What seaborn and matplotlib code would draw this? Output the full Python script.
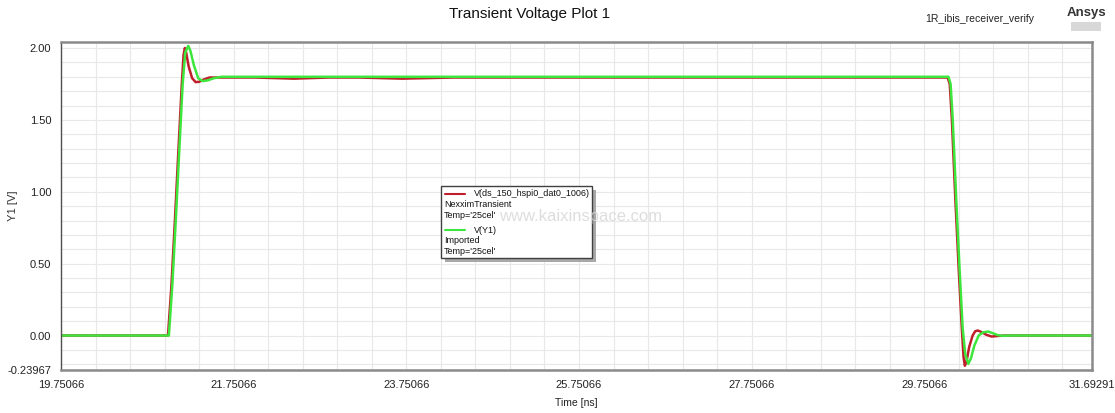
import numpy as np
import pandas as pd
import matplotlib
matplotlib.use("Agg")
import matplotlib.pyplot as plt
from matplotlib.ticker import FixedLocator
from matplotlib.patches import Rectangle
from matplotlib.lines import Line2D
import seaborn as sns

# ---------------- data ----------------
red_name = "V(ds_150_hspi0_dat0_1006)"
green_name = "V(Y1)"

red_t = [19.75066, 20.99, 21.03, 21.07, 21.11, 21.15, 21.17, 21.185, 21.20, 21.23, 21.27,
         21.31, 21.35, 21.40, 21.47, 21.55, 21.70, 22.00, 22.45, 22.85, 23.20, 23.70,
         24.30, 26.00, 30.02, 30.045, 30.07, 30.11, 30.15, 30.185, 30.205, 30.22, 30.24,
         30.27, 30.31, 30.34, 30.37, 30.41, 30.47, 30.53, 30.60, 30.68, 31.69291]
red_v = [0.0, 0.0, 0.35, 0.80, 1.28, 1.75, 1.95, 2.00, 1.97, 1.87, 1.79,
         1.763, 1.765, 1.78, 1.795, 1.795, 1.795, 1.795, 1.787, 1.795, 1.795, 1.787,
         1.795, 1.795, 1.795, 1.75, 1.50, 0.95, 0.45, 0.05, -0.15, -0.21, -0.18,
         -0.08, 0.0, 0.03, 0.035, 0.025, 0.005, -0.007, -0.003, 0.0, 0.0]

green_t = [19.75066, 21.00, 21.04, 21.08, 21.12, 21.16, 21.19, 21.225, 21.25, 21.29, 21.34,
           21.39, 21.45, 21.52, 21.61, 21.80, 22.50, 25.00, 30.03, 30.055, 30.08, 30.12,
           30.16, 30.195, 30.225, 30.26, 30.29, 30.33, 30.38, 30.43, 30.49, 30.55, 30.60,
           30.66, 30.75, 31.69291]
green_v = [0.0, 0.0, 0.35, 0.80, 1.28, 1.75, 1.97, 2.015, 1.98, 1.88, 1.79,
           1.77, 1.775, 1.79, 1.80, 1.80, 1.80, 1.80, 1.80, 1.75, 1.50, 0.95,
           0.45, 0.05, -0.13, -0.197, -0.16, -0.07, 0.0, 0.022, 0.028, 0.015, 0.003,
           -0.002, 0.0, 0.0]

x_ticks = [19.75066, 21.75066, 23.75066, 25.75066, 27.75066, 29.75066, 31.69291]
x_tick_labels = ["19.75066", "21.75066", "23.75066", "25.75066", "27.75066", "29.75066", "31.69291"]
y_ticks = [-0.23967, 0.0, 0.5, 1.0, 1.5, 2.0]
y_tick_labels = ["-0.23967", "0.00", "0.50", "1.00", "1.50", "2.00"]

title = "Transient Voltage Plot 1"
project = "1R_ibis_receiver_verify"
brand = "Ansys"
x_label = "Time [ns]"
y_label = "Y1 [V]"
legend_rows = [
    (red_name, ["NexximTransient", "Temp='25cel'"]),
    (green_name, ["Imported", "Temp='25cel'"]),
]
watermark = "www.kaixinspace.com"

# ---------------- styling ----------------
sns.set_style("white")
plt.rcParams["font.family"] = ["Liberation Sans", "DejaVu Sans"]

red_c = "#bf1f2a"
green_c = "#3de63d"

df = pd.concat([
    pd.DataFrame({"t": red_t, "v": red_v, "series": red_name}),
    pd.DataFrame({"t": green_t, "v": green_v, "series": green_name}),
], ignore_index=True)

W, H = 1115, 413
fig = plt.figure(figsize=(W / 100, H / 100), dpi=100)
ax = fig.add_axes([61 / W, 1 - 370 / H, (1092 - 61) / W, (370 - 42) / H])

sns.lineplot(data=df, x="t", y="v", hue="series", hue_order=[red_name, green_name],
             palette={red_name: red_c, green_name: green_c}, sort=False,
             estimator=None, legend=False, linewidth=1.8, ax=ax)

ax.set_xlim(19.75066, 31.69291)
ax.set_ylim(-0.23967, 2.042)

ax.xaxis.set_major_locator(FixedLocator(x_ticks))
ax.set_xticklabels(x_tick_labels)
ax.xaxis.set_minor_locator(FixedLocator(list(np.arange(19.75066, 31.7, 0.4))))
ax.yaxis.set_major_locator(FixedLocator(y_ticks))
ax.set_yticklabels(y_tick_labels)
ax.yaxis.set_minor_locator(FixedLocator(list(np.round(np.arange(-0.2, 2.05, 0.1), 3))))

ax.grid(True, which="both", color="#e8e8e8", linewidth=0.8)
ax.set_axisbelow(True)

ax.tick_params(axis="both", which="major", direction="out", length=5, width=1, color="#404040",
               labelsize=8, labelcolor="#222222", pad=2)
ax.tick_params(axis="both", which="minor", direction="out", length=4, width=1, color="#404040")

ax.spines["left"].set_color("#505050")
ax.spines["left"].set_linewidth(1.0)
for side in ["top", "right", "bottom"]:
    ax.spines[side].set_color("#8a8a8a")
    ax.spines[side].set_linewidth(1.8)

ax.set_xlabel(x_label, fontsize=7.5, color="#222222", labelpad=6)
ax.set_ylabel(y_label, fontsize=8, color="#333333")
ax.yaxis.set_label_coords((18 - 61) / (1092 - 61), 0.5)

# titles
fig.text(530 / W, 1 - 14 / H, title, ha="center", va="center", fontsize=11, color="#111111")
fig.text(980 / W, 1 - 19 / H, project, ha="center", va="center", fontsize=7.5, color="#222222")
fig.text(1086 / W, 1 - 13 / H, brand, ha="center", va="center", fontsize=9.5,
         fontweight="bold", color="#333333")
fig.patches.append(Rectangle((1071 / W, 1 - 31 / H), 30 / W, 9 / H, transform=fig.transFigure,
                             facecolor="#d8d8d8", edgecolor="none"))

# legend box with shadow
lx0, ly0, lx1, ly1 = 441, 186, 592, 258
fig.patches.append(Rectangle(((lx0 + 4) / W, 1 - (ly1 + 4) / H), (lx1 - lx0) / W, (ly1 - ly0) / H,
                             transform=fig.transFigure, facecolor="#a8a8a8", edgecolor="none",
                             zorder=5))
fig.patches.append(Rectangle((lx0 / W, 1 - ly1 / H), (lx1 - lx0) / W, (ly1 - ly0) / H,
                             transform=fig.transFigure, facecolor="white", edgecolor="#404040",
                             linewidth=1.0, zorder=6))
row_y = [194, 230]
for (name, extra), ry, col in zip(legend_rows, row_y, [red_c, green_c]):
    fig.lines.append(Line2D([445 / W, 465 / W], [1 - ry / H, 1 - ry / H], transform=fig.transFigure,
                            color=col, linewidth=1.5, zorder=7))
    fig.text(474 / W, 1 - ry / H, name, ha="left", va="center", fontsize=6.5, color="#111111", zorder=7)
    for k, line in enumerate(extra):
        fig.text(444 / W, 1 - (ry + 10.5 * (k + 1)) / H, line, ha="left", va="center",
                 fontsize=6.5, color="#111111", zorder=7)

fig.text(499 / W, 1 - 216 / H, watermark, ha="left", va="center", fontsize=12,
         color="#dadada", alpha=0.9, zorder=8)

fig.savefig("out.png", dpi=100)
